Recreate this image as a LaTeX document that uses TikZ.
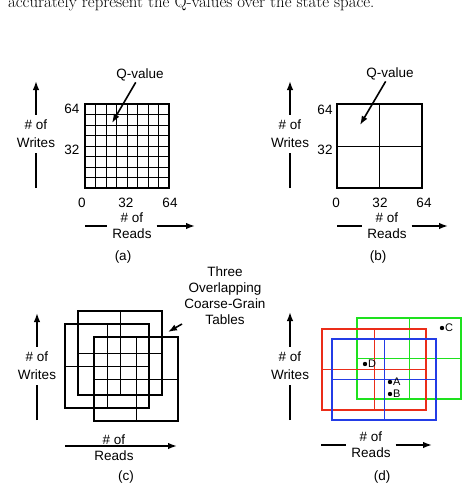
\documentclass[tikz,border=0pt]{standalone}
\usepackage{fontspec}
\newfontfamily\figfont{Liberation Sans}
\usetikzlibrary{arrows.meta}
\definecolor{tabred}{RGB}{235,45,25}
\definecolor{tabgreen}{RGB}{30,225,30}
\definecolor{tabblue}{RGB}{35,60,230}

\begin{document}
\begin{tikzpicture}[x=1pt,y=-1pt,
      every node/.style={font=\figfont\fontsize{13.5}{16}\selectfont,inner sep=1pt},
      frame/.style={line width=2.8pt},
      cell/.style={line width=1pt},
      axis/.style={line width=1.6pt},
      ptr/.style={line width=1.6pt,-{Latex[length=9pt,width=6.5pt]}},
      lbl/.style={align=center,inner sep=5pt},
      spot/.style={circle,fill,inner sep=0pt,minimum size=4.4pt},
      tag/.style={font=\figfont\fontsize{11}{12}\selectfont,inner sep=0.5pt}]
    \useasboundingbox (0,0) rectangle (474,503);
    \clip (0,0) rectangle (474,503);
    \node[anchor=base west,font=\fontsize{16.8}{20}\selectfont] (cap) at (7,7.5)
      {accurately represent the Q-values over the state space.};
    % (a) fine grid
    \foreach \i in {1,...,7} {
      \draw[cell] (85+\i*10.5,104) -- (85+\i*10.5,188);
      \draw[cell] (85,104+\i*10.5) -- (169,104+\i*10.5);
    }
    \draw[frame] (85,104) rectangle (169,188);
    \node (ya1) at (72,109) {64};
    \node (ya0) at (72,150) {32};
    \node (xa0) at (82,203) {0};
    \node (xa1) at (126,203) {32};
    \node (xa2) at (170,203) {64};
    \coordinate (wa0) at (36,188);
    \coordinate (wa1) at (36,81);
    \node[lbl] (wa) at (36,134) {\# of\\[2pt]Writes};
    \draw[axis] (wa0) -- (wa);
    \draw[ptr] (wa) -- (wa1);
    \coordinate (ra0) at (85,226);
    \coordinate (ra1) at (195,226);
    \node[lbl] (ra) at (132,226) {\# of\\Reads};
    \draw[axis] (ra0) -- (ra);
    \draw[ptr] (ra) -- (ra1);
    \node (qa) at (140,75) {Q-value};
    \coordinate (qa1) at (112,123);
    \draw[ptr] (qa) -- (qa1);
    \node (pa) at (123,257) {(a)};
    % (b) coarse grid
    \draw[cell] (379.5,104) -- (379.5,188);
    \draw[cell] (337,146) -- (422,146);
    \draw[frame] (337,104) rectangle (422,188);
    \node (yb1) at (325,110) {64};
    \node (yb0) at (325,150) {32};
    \node (xb0) at (336,203) {0};
    \node (xb1) at (380,203) {32};
    \node (xb2) at (424,203) {64};
    \coordinate (wb0) at (290,188);
    \coordinate (wb1) at (290,81);
    \node[lbl] (wb) at (290,134) {\# of\\[2pt]Writes};
    \draw[axis] (wb0) -- (wb);
    \draw[ptr] (wb) -- (wb1);
    \coordinate (rb0) at (337,226);
    \coordinate (rb1) at (448,226);
    \node[lbl] (rb) at (387,226) {\# of\\Reads};
    \draw[axis] (rb0) -- (rb);
    \draw[ptr] (rb) -- (rb1);
    \node (qb) at (390,74) {Q-value};
    \coordinate (qb1) at (360,125);
    \draw[ptr] (qb) -- (qb1);
    \node (pb) at (378,257) {(b)};
    % (c) three overlapping tables
    \foreach \x/\y in {78/311,65/324,94/337} {
      \draw[cell] (\x+42,\y) -- (\x+42,\y+84);
      \draw[cell] (\x,\y+42) -- (\x+84,\y+42);
      \draw[frame] (\x,\y) rectangle (\x+84,\y+84);
    }
    \coordinate (wc0) at (37,420);
    \coordinate (wc1) at (37,313);
    \node[lbl] (wc) at (37,366) {\# of\\[2pt]Writes};
    \draw[axis] (wc0) -- (wc);
    \draw[ptr] (wc) -- (wc1);
    \coordinate (rc0) at (65,446);
    \coordinate (rc1) at (177,446);
    \draw[ptr] (rc0) -- (rc1);
    \node[align=center] (rc) at (114,448) {\# of\\Reads};
    \node[align=center] (tc) at (225,296) {Three\\Overlapping\\Coarse-Grain\\Tables};
    \coordinate (tc0) at (182,324);
    \coordinate (tc1) at (168,332);
    \draw[ptr] (tc0) -- (tc1);
    \node (pc) at (126,477) {(c)};
    % (d) coloured tables and states
    \foreach \x/\y/\c in {357/318/tabgreen,322/329/tabred,332/339/tabblue} {
      \draw[cell,\c] (\x+52,\y) -- (\x+52,\y+81);
      \draw[cell,\c] (\x,\y+40.5) -- (\x+104,\y+40.5);
      \draw[frame,\c] (\x,\y) rectangle (\x+104,\y+81);
    }
    \node[spot] (sc) at (442,328) {};
    \node[spot] (sd) at (365,364) {};
    \node[spot] (sa) at (390,382) {};
    \node[spot] (sb) at (390,394) {};
    \node[tag,anchor=west] (lc) at (sc.east) {C};
    \node[tag,anchor=west] (ld) at (sd.east) {D};
    \node[tag,anchor=west] (la) at (sa.east) {A};
    \node[tag,anchor=west] (lb) at (sb.east) {B};
    \coordinate (wd0) at (290,420);
    \coordinate (wd1) at (290,312);
    \node[lbl] (wd) at (290,366) {\# of\\[2pt]Writes};
    \draw[axis] (wd0) -- (wd);
    \draw[ptr] (wd) -- (wd1);
    \coordinate (rd0) at (321,445);
    \coordinate (rd1) at (432,445);
    \node[lbl] (rd) at (371,445) {\# of\\Reads};
    \draw[axis] (rd0) -- (rd);
    \draw[ptr] (rd) -- (rd1);
    \node (pd) at (382,477) {(d)};
  \end{tikzpicture}
\end{document}
